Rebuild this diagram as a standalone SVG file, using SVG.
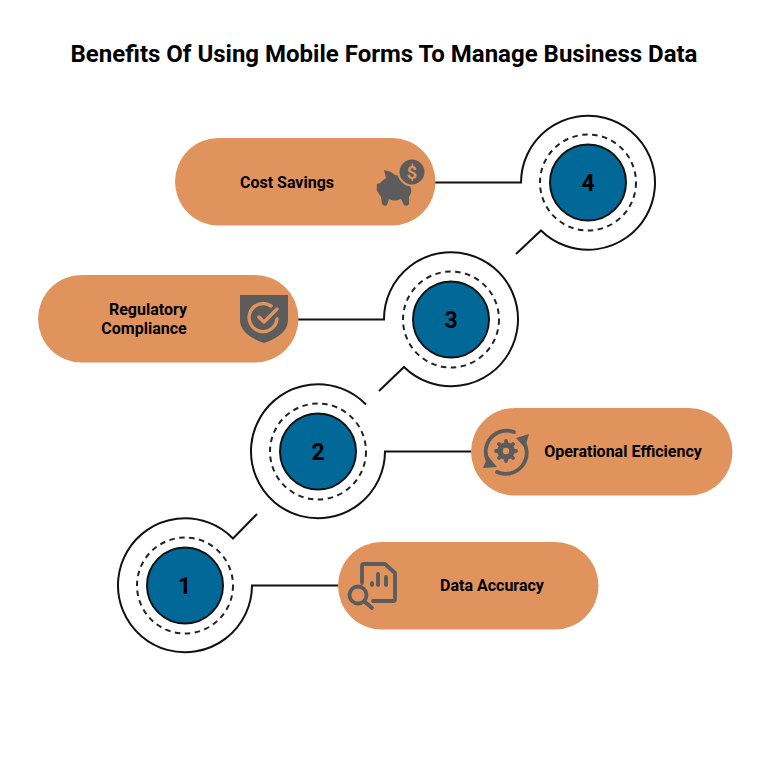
<svg xmlns="http://www.w3.org/2000/svg" width="768" height="759" viewBox="0 0 768 759">
<style>
text{font-family:Roboto,"Liberation Sans",sans-serif;fill:#000;text-anchor:middle}
.title{font-size:24px;font-weight:700}
.lbl{font-size:16px;font-weight:700}
.num{font-size:23px;font-weight:700}
.pill{fill:#e0935c}
.disc{fill:#026897;stroke:#111;stroke-width:2}
.dash{fill:none;stroke:#222;stroke-width:2;stroke-dasharray:5.500 4.500}
.wire{fill:none;stroke:#111;stroke-width:2}
.ico{fill:#5c5c5c}
.ol{fill:none;stroke:#5c5c5c;stroke-width:3.800;stroke-linecap:round;stroke-linejoin:round}
</style>
<rect width="768" height="759" fill="#fff"/>
<text class="title" x="384" y="61.500">Benefits Of Using Mobile Forms To Manage Business Data</text>
<g id="connectors">
<path class="wire" d="M338 585.500H252A67 67 0 1 1 233 538.500L257 514"/>
<path class="wire" d="M471 451.500H385A67 67 0 1 1 366 404.500"/>
<path class="wire" d="M298 319.500H384A67 67 0 1 1 404 367L379 391"/>
<path class="wire" d="M435 182.500H521A67 67 0 1 1 541 230.500L516 254"/>
</g>
<g id="node-1">
<rect class="pill" x="338" y="542" width="260.500" height="87.500" rx="43.750"/>
<circle class="dash" cx="185" cy="585.500" r="48"/><circle class="disc" cx="185" cy="585.500" r="38"/>
<text class="num" x="184.500" y="594">1</text>
<text class="lbl" x="492" y="591">Data Accuracy</text>
<path class="ol" d="M362 583V566Q362 564 364 564H385L395 573V599Q395 601 393 601H373"/>
<circle class="ol" cx="358" cy="595" r="8.500"/>
<path class="ol" d="M365 602L372 608M372 585V583M378 585V574M386 585V577"/>
</g>
<g id="node-2">
<rect class="pill" x="471" y="408" width="261.500" height="87.500" rx="43.750"/>
<circle class="dash" cx="318" cy="451.500" r="48"/><circle class="disc" cx="318" cy="451.500" r="38"/>
<text class="num" x="318" y="460">2</text>
<text class="lbl" x="623" y="456.500">Operational Efficiency</text>
<path class="ol" d="M489 463A21 21 0 0 1 514 432M523 441A21 21 0 0 1 497 472"/>
<path class="ico" d="M516 438L529 434L525 448ZM483 468L488 456L497 467Z"/>
<circle cx="506" cy="451" r="6" fill="none" stroke="#5c5c5c" stroke-width="5.500"/>
<path class="ol" d="M506 441V443M506 459V461M496 451H498M514 451H516M499 444L500.500 445.500M511.500 456.500L513 458M499 458L500.500 456.500M511.500 445.500L513 444"/>
</g>
<g id="node-3">
<rect class="pill" x="38" y="275" width="260.500" height="87.500" rx="43.750"/>
<circle class="dash" cx="451" cy="319.500" r="48"/><circle class="disc" cx="451" cy="319.500" r="38"/>
<text class="num" x="451" y="328">3</text>
<text class="lbl"><tspan x="148" y="315">Regulatory</tspan><tspan x="144" y="334">Compliance</tspan></text>
<path class="ico" d="M240 295H288V321Q287 335 264 343Q241 335 240 321Z"/>
<path fill="none" stroke="#e0935c" stroke-width="3.400" stroke-linecap="round" stroke-linejoin="round" d="M271 306A14 14 0 1 0 277 319M259 317L264 322L277 309"/>
</g>
<g id="node-4">
<rect class="pill" x="175" y="138" width="260.500" height="87.500" rx="43.750"/>
<circle class="dash" cx="588" cy="182.500" r="48"/><circle class="disc" cx="588" cy="182.500" r="38"/>
<text class="num" x="588" y="191">4</text>
<text class="lbl" x="287" y="188">Cost Savings</text>
<path class="ico" d="M384 170L391 172L395 175Q405 176 410 186Q413 192 409 197L409 204Q407 207 404 205L401 199Q394 202 389 199L387 205Q384 207 382 204L381 197Q379 194 378 192Q376 192 377 184Q380 184 382 181L386 178Z"/>
<circle cx="412" cy="172" r="13.500" fill="#5c5c5c" stroke="#e0935c" stroke-width="2"/>
<text x="412" y="178.500" font-size="18" font-weight="700" style="fill:#e0935c">$</text>
</g>
</svg>
